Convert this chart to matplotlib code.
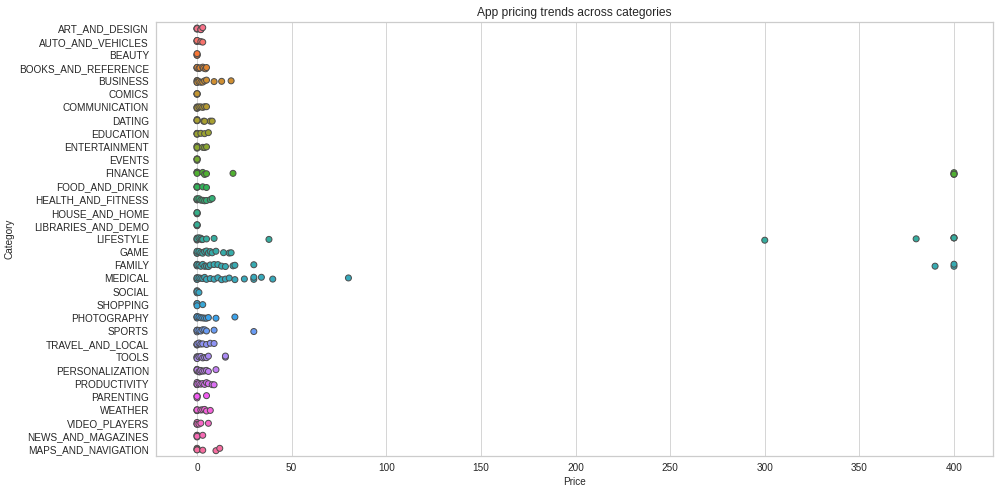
import numpy as np
import pandas as pd
import matplotlib
matplotlib.use("Agg")
import matplotlib.pyplot as plt
import seaborn as sns

categories = [
    "ART_AND_DESIGN", "AUTO_AND_VEHICLES", "BEAUTY", "BOOKS_AND_REFERENCE",
    "BUSINESS", "COMICS", "COMMUNICATION", "DATING", "EDUCATION",
    "ENTERTAINMENT", "EVENTS", "FINANCE", "FOOD_AND_DRINK",
    "HEALTH_AND_FITNESS", "HOUSE_AND_HOME", "LIBRARIES_AND_DEMO",
    "LIFESTYLE", "GAME", "FAMILY", "MEDICAL", "SOCIAL", "SHOPPING",
    "PHOTOGRAPHY", "SPORTS", "TRAVEL_AND_LOCAL", "TOOLS",
    "PERSONALIZATION", "PRODUCTIVITY", "PARENTING", "WEATHER",
    "VIDEO_PLAYERS", "NEWS_AND_MAGAZINES", "MAPS_AND_NAVIGATION",
]

art_and_design = [0, 0, 0, 0, 1.99, 1.99, 2.99]
auto_and_vehicles = [0, 0, 0, 0, 1.99, 2.99]
beauty = [0, 0, 0, 0]
books_and_reference = [0, 0, 0, 0, 0.99, 1.49, 2.99, 3.49, 4.49, 4.99]
business = [0, 0, 0, 0, 0.99, 1.99, 2.99, 3.99, 4.99, 8.99, 12.99, 17.99]
comics = [0, 0, 0, 0]
communication = [0, 0, 0, 0, 0.99, 1.99, 2.99, 3.99, 4.99]
dating = [0, 0, 0, 0, 3.49, 3.99, 6.99, 7.99]
education = [0, 0, 0, 0, 1.99, 3.99, 5.99]
entertainment = [0, 0, 0, 0, 2.99, 3.99, 4.99]
events = [0, 0, 0, 0]
finance = [0, 0, 0, 0, 2.99, 3.99, 4.99, 18.99, 399.99, 399.99, 399.99, 399.99]
food_and_drink = [0, 0, 0, 0, 2.99, 4.99]
health_and_fitness = [0, 0, 0, 0, 0.99, 1.99, 2.99, 3.99, 4.99, 6.99, 7.99]
house_and_home = [0, 0, 0, 0]
libraries_and_demo = [0, 0, 0, 0]
lifestyle = [0, 0, 0, 0, 0.99, 1.99, 2.49, 2.99, 4.99, 8.99, 37.99,
             299.99, 379.99, 399.99, 399.99, 399.99]
game = [0, 0, 0, 0, 0.99, 1.99, 2.99, 3.99, 4.99, 5.99, 6.99, 7.99,
        9.99, 13.99, 16.99, 17.99]
family = [0, 0, 0, 0, 0.99, 1.99, 2.99, 3.99, 4.99, 5.99, 6.99, 8.99,
          10.99, 12.99, 14.99, 18.99, 19.99, 29.99, 389.99, 399.99, 399.99]
medical = [0, 0, 0, 0, 0.99, 1.99, 2.99, 3.99, 4.99, 6.99, 8.99, 10.99,
           12.99, 14.99, 16.99, 19.99, 24.99, 29.99, 29.99, 33.99, 39.99,
           79.99]
social = [0, 0, 0, 0, 0.99]
shopping = [0, 0, 0, 0, 2.99]
photography = [0, 0, 0, 0, 0.99, 1.99, 2.99, 3.99, 4.99, 5.99, 9.99, 19.99]
sports = [0, 0, 0, 0, 0.99, 1.99, 2.99, 3.99, 4.99, 8.99, 29.99]
travel_and_local = [0, 0, 0, 0, 0.99, 1.99, 2.99, 4.99, 6.99, 8.99]
tools = [0, 0, 0, 0, 0.99, 1.99, 2.99, 3.99, 4.99, 5.99, 14.99, 14.99]
personalization = [0, 0, 0, 0, 0.99, 1.49, 1.99, 2.99, 3.99, 4.99, 5.99,
                   9.99]
productivity = [0, 0, 0, 0, 0.99, 1.99, 2.99, 3.99, 4.99, 5.99, 7.99, 8.99]
parenting = [0, 0, 0, 0, 4.99]
weather = [0, 0, 0, 0, 1.99, 2.99, 3.99, 4.99, 6.99]
video_players = [0, 0, 0, 0, 0.99, 1.99, 5.99]
news_and_magazines = [0, 0, 0, 0, 2.99]
maps_and_navigation = [0, 0, 0, 0, 2.99, 9.99, 11.99]

prices = [
    art_and_design, auto_and_vehicles, beauty, books_and_reference,
    business, comics, communication, dating, education, entertainment,
    events, finance, food_and_drink, health_and_fitness, house_and_home,
    libraries_and_demo, lifestyle, game, family, medical, social, shopping,
    photography, sports, travel_and_local, tools, personalization,
    productivity, parenting, weather, video_players, news_and_magazines,
    maps_and_navigation,
]

rows = [(c, p) for c, ps in zip(categories, prices) for p in ps]
df = pd.DataFrame(rows, columns=["Category", "Price"])

sns.set_style("whitegrid")
plt.rcParams["font.family"] = ["Liberation Sans", "DejaVu Sans"]

np.random.seed(3)
fig = plt.figure(figsize=(1003 / 72, 492 / 72), dpi=72)
ax = fig.add_axes([156 / 1003, 1 - 456 / 492, 837 / 1003, 434 / 492])
sns.stripplot(data=df, x="Price", y="Category", hue="Category",
              order=categories, hue_order=categories, palette="husl",
              jitter=True, linewidth=1, edgecolor="0.3", size=6,
              legend=False, ax=ax)
ax.set_xlim(-21.7, 420.6)
for s in ax.spines.values():
    s.set_visible(True)
    s.set_color("0.8")
    s.set_linewidth(1.25)
ax.set_title("App pricing trends across categories", fontsize=12)
ax.set_xlabel("Price", fontsize=10)
ax.set_ylabel("Category", fontsize=10)
ax.tick_params(axis="both", labelsize=10)
fig.savefig("out.png", dpi=72)
